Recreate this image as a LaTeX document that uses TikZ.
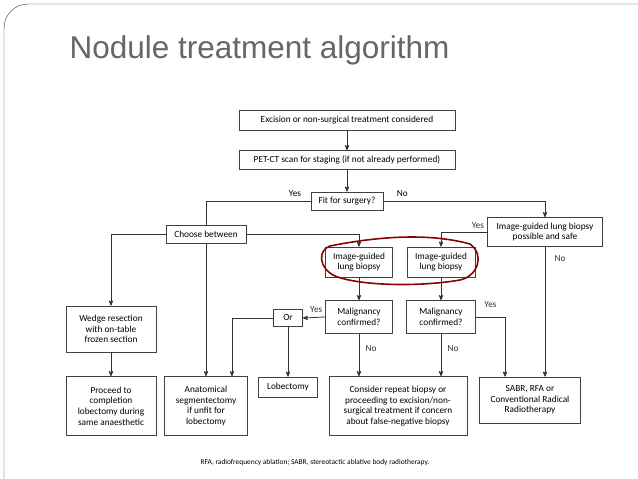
\documentclass[tikz,border=0pt]{standalone}
\usepackage{fontspec}
\setmainfont{Carlito}
\newfontfamily\titlefont{Liberation Sans}
\usetikzlibrary{positioning,arrows}
\tikzset{
>=stealth',
  box/.style={
    rectangle,
    draw=black!75, thick,
    fill=white,
    font=\fontsize{9.3}{10.6}\selectfont,
    align=center,
    inner sep=1pt},
  pil/.style={->, thick, black!80},
  lbl/.style={font=\fontsize{9.3}{10.6}\selectfont},
}
\begin{document}
\begin{tikzpicture}[x=1pt,y=-1pt]
    \useasboundingbox (0,0) rectangle (638,479);
    \draw[black!80, rounded corners=24] (4,490) -- (4,4) -- (660,4);
    \node[anchor=west, text=black!60, font=\titlefont\fontsize{31.5}{34}\selectfont] (title) at (66,50) {Nodule treatment algorithm};
    % boxes
    \node[box, minimum width=216, minimum height=20] (excis) at (347,120) {Excision or non-surgical treatment considered};
    \node[box, minimum width=216, minimum height=19] (petct) at (347,160) {PET-CT scan for staging (if not already performed)};
    \node[box, minimum width=72, minimum height=18] (fit) at (347,201) {Fit for surgery?};
    \node[box, minimum width=80, minimum height=18] (choose) at (206,234) {Choose between};
    \node[box, minimum width=115, minimum height=29] (ipos) at (545,232) {Image-guided lung biopsy\\possible and safe};
    \node[box, minimum width=67, minimum height=30] (igA) at (359,262) {Image-guided\\lung biopsy};
    \node[box, minimum width=68, minimum height=30] (igB) at (441,262) {Image-guided\\lung biopsy};
    \node[box, minimum width=29, minimum height=17] (or) at (288,318) {Or};
    \node[box, minimum width=67, minimum height=33] (malA) at (359,317) {Malignancy\\confirmed?};
    \node[box, minimum width=69, minimum height=33] (malB) at (441,317) {Malignancy\\confirmed?};
    \node[box, minimum width=90, minimum height=46] (wedge) at (111,329) {Wedge resection\\with on-table\\frozen section};
    \node[box, minimum width=90, minimum height=59] (proc) at (111,406) {Proceed to\\completion\\lobectomy during\\same anaesthetic};
    \node[box, minimum width=83, minimum height=59] (anat) at (206,406) {Anatomical\\segmentectomy\\if unfit for\\lobectomy};
    \node[box, minimum width=59, minimum height=20] (lobe) at (288,387) {Lobectomy};
    \node[box, minimum width=138, minimum height=59] (cons) at (398,406) {Consider repeat biopsy or\\proceeding to excision/non-\\surgical treatment if concern\\about false-negative biopsy};
    \node[box, minimum width=101, minimum height=46] (sabr) at (530,400) {SABR, RFA or\\Conventional Radical\\Radiotherapy};
    \node[lbl, font=\fontsize{7.4}{8}\selectfont] (note) at (315,463) {RFA, radiofrequency ablation; SABR, stereotactic ablative body radiotherapy.};
    % connectors
    \draw[pil] (excis) -- (petct);
    \draw[pil] (petct) -- (fit);
    \draw[thick, black!80] (fit.west) -| (choose.north);
    \node[lbl, above left=1pt and 6pt] (yfit) at (fit.west) {Yes};
    \draw[pil] (fit.east) -| (ipos.north);
    \node[lbl, above right=1pt and 10pt] (nfit) at (fit.east) {No};
    \draw[pil] (choose.west) -| (wedge.north);
    \draw[pil] (choose.south) -- (anat.north);
    \draw[pil] (choose.east) -| (igA.north);
    \draw[pil] (ipos.west) -| (igB.north) node[lbl, pos=0.1, above] {Yes};
    \draw[pil] (ipos.south) -- (ipos.south |- sabr.north) node[lbl, pos=0.09, right=6pt] {No};
    \draw[pil] (igA) -- (malA);
    \draw[pil] (igB) -- (malB);
    \draw[pil] (malA.west) -- (or.east) node[lbl, pos=0.4, above=1pt] {Yes};
    \draw[pil] (or.west) -| ([xshift=26]anat.north);
    \draw[pil] (or) -- (lobe);
    \draw[pil] (malA.south) -- (malA.south |- cons.north) node[lbl, pos=0.35, right=3pt] {No};
    \draw[pil] (malB.south) -- (malB.south |- cons.north) node[lbl, pos=0.35, right=3pt] {No};
    \draw[pil] (malB.east) -| ([xshift=-25]sabr.north) node[lbl, pos=0.25, above=6pt] {Yes};
    \draw[pil] (wedge) -- (proc);
    % red highlight
    \draw[red!55!black, line width=1.6pt] (330,246) .. controls (380,236) and (430,233) .. (470,244) .. controls (485,255) and (478,276) .. (460,280) .. controls (420,287) and (360,286) .. (335,276) .. controls (318,268) and (318,250) .. cycle;
\end{tikzpicture}
\end{document}
